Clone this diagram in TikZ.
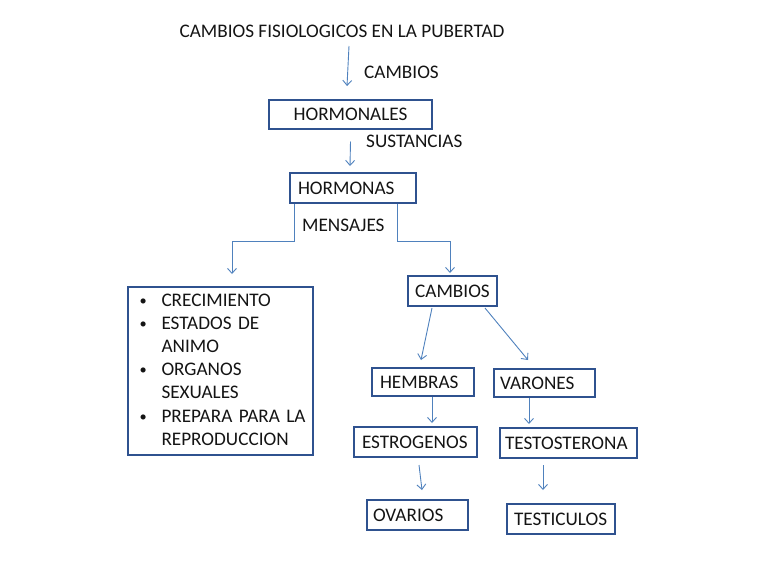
\documentclass[tikz,border=0pt]{standalone}
\usepackage{fontspec}
\setmainfont{Carlito}
\usetikzlibrary{arrows.meta}
\definecolor{boxc}{RGB}{47,82,143}
\definecolor{arrc}{RGB}{79,129,189}
\definecolor{txtc}{RGB}{20,20,20}
\tikzset{
  every node/.style={font=\fontsize{19.2}{23.2}\selectfont, text=txtc},
  lbl/.style={anchor=west, inner sep=0pt},
  bxl/.style n args={3}{draw=boxc, line width=2.2pt, minimum height=#2, text width=#1, inner xsep=#3, align=left, inner ysep=0pt},
  bxc/.style n args={2}{draw=boxc, line width=2.2pt, minimum height=#2, minimum width=#1, align=center, inner ysep=0pt},
  arr/.style={draw=arrc, line width=0.9pt, -{Straight Barb[length=5pt,width=9pt]}}
}
\newcommand{\bul}{\hspace*{8pt}\makebox[22pt][l]{\raisebox{1pt}{\scalebox{0.75}{\textbullet}}}}
\newcommand{\ind}{\hspace*{30pt}}
\begin{document}
\begin{tikzpicture}[x=1pt,y=-1pt]
\useasboundingbox (0,0) rectangle (768,576);
\node[inner sep=0pt] (title) at (342,31) {CAMBIOS FISIOLOGICOS EN LA PUBERTAD};
\node[lbl] (lcambios) at (364,72) {CAMBIOS};
\node[bxc={163}{29}] (hormonales) at (350.5,114.5) {HORMONALES};
\node[lbl] (lsust) at (366,141) {SUSTANCIAS};
\node[bxl={110}{30}{8}] (hormonas) at (353,188) {HORMONAS};
\node[lbl] (lmens) at (302,225) {MENSAJES};
\node[bxl={178}{168}{3.5}] (list) at (220.5,371) {%
\begin{tabular}{@{}l@{}}
\bul CRECIMIENTO\\
\bul ESTADOS DE\\
\ind ANIMO\\
\bul ORGANOS\\
\ind SEXUALES\\
\bul PREPARA PARA LA\\
\ind REPRODUCCION
\end{tabular}};
\node[bxc={89}{30}] (cambios) at (452.5,291) {CAMBIOS};
\node[bxl={86}{28}{8}] (hembras) at (423,382) {HEMBRAS};
\node[bxl={89}{28}{6}] (varones) at (544.5,383) {VARONES};
\node[bxl={107}{30}{8}] (estrogenos) at (415.5,442) {ESTROGENOS};
\node[bxl={127}{30}{5}] (testosterona) at (568.5,443) {TESTOSTERONA};
\node[bxl={89}{30}{6}] (ovarios) at (417.5,515) {OVARIOS};
\node[bxl={94}{30}{7}] (testiculos) at (561,519) {TESTICULOS};

\draw[arr] ([shift={(7,15)}]title.center) -- ([shift={(-3.5,-28.5)}]hormonales.center);
\draw[arr] ([shift={(0,27)}]hormonales.center) -- ([shift={(-3,-22)}]hormonas.center);
\draw[arr] ([shift={(-59,16)}]hormonas.center) -- ++(0,37) -- ++(-62,0) -- ([shift={(11.5,-97)}]list.center);
\draw[arr] ([shift={(44,16)}]hormonas.center) -- ++(0,37) -- ++(53,0) -- ([shift={(-2.5,-18)}]cambios.center);
\draw[arr] ([shift={(-20.5,17)}]cambios.center) -- ([shift={(-2,-22)}]hembras.center);
\draw[arr] ([shift={(32.5,17)}]cambios.center) -- ([shift={(-16.5,-23)}]varones.center);
\draw[arr] ([shift={(9,15)}]hembras.center) -- ([shift={(16.5,-19)}]estrogenos.center);
\draw[arr] ([shift={(-15.5,15)}]varones.center) -- ([shift={(-39.5,-19)}]testosterona.center);
\draw[arr] ([shift={(3.5,23)}]estrogenos.center) -- ([shift={(4.5,-25)}]ovarios.center);
\draw[arr] ([shift={(-25.5,22)}]testosterona.center) -- ([shift={(-18,-29)}]testiculos.center);
\end{tikzpicture}
\end{document}
